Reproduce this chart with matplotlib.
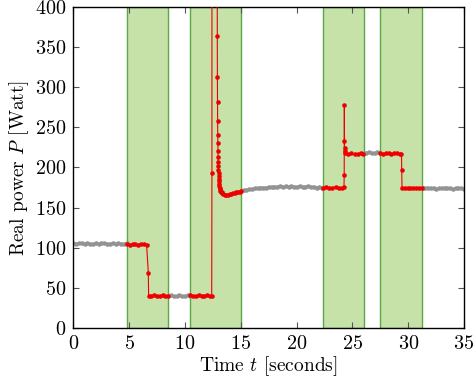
"""plot.py: real power trace with highlighted intervals."""

import numpy as np
import matplotlib as mpl
mpl.use('Agg')
import matplotlib.pyplot as plt

mpl.rcParams['font.family'] = 'serif'
mpl.rcParams['font.serif'] = ['cmr10']
mpl.rcParams['mathtext.fontset'] = 'cm'
mpl.rcParams['axes.formatter.use_mathtext'] = True
mpl.rcParams['axes.unicode_minus'] = False

# highlighted intervals (seconds)
band_start = [4.82, 10.5, 22.33, 27.5]
band_end = [8.5, 15.03, 26.0, 31.27]

# gray (idle) samples, each segment: (t_start, t_end, values)
gray_seg_t = [(0.0, 4.8), (8.5, 10.5), (15.0, 22.3), (26.0, 27.5), (31.3, 35.0)]
gray_seg_p = [
    [106, 105, 106, 106, 105, 106, 105, 105, 106, 105,
     106, 106, 105, 105, 106, 105, 106, 105, 105, 106],
    [40, 41, 40, 40, 41, 40, 40, 41, 40],
    [171, 172, 172, 173, 173, 174, 174, 175, 175, 175,
     176, 176, 176, 176, 177, 176, 177, 176, 177, 176,
     176, 177, 176, 176, 177, 176, 176, 175, 176, 175],
    [218, 218, 219, 218, 218, 219, 218],
    [174, 174, 175, 174, 174, 173, 174, 174,
     175, 174, 174, 173, 174, 174, 174, 173],
]

# red (measured) samples inside the intervals
red1_t = [4.82, 5.07, 5.32, 5.57, 5.82, 6.07, 6.32, 6.57, 6.72,
          6.75, 7.0, 7.25, 7.5, 7.75, 8.0, 8.25, 8.48]
red1_p = [105, 104, 105, 105, 104, 105, 105, 104, 69,
          40, 40, 41, 40, 40, 41, 40, 40]

red2_t = [10.5, 10.75, 11.0, 11.25, 11.5, 11.75, 12.0, 12.25, 12.4,
          12.42, 12.43, 12.88,
          12.90, 12.91, 12.92, 12.93, 12.94, 12.95, 12.96, 12.97, 12.98,
          12.99, 13.00, 13.01, 13.02, 13.03, 13.04, 13.06, 13.08, 13.10,
          13.13, 13.17, 13.22, 13.28, 13.35, 13.45, 13.58, 13.72, 13.86,
          14.0, 14.15, 14.3, 14.45, 14.6, 14.75, 14.9, 15.0]
red2_p = [41, 40, 40, 41, 40, 40, 41, 40, 40,
          193, 1500, 1500,
          363, 312, 281, 258, 240, 230, 221, 213, 207,
          202, 197, 193, 189, 186, 183, 180, 177, 175,
          173, 171, 170, 169, 168, 167, 166, 166, 166,
          167, 167, 168, 168, 169, 170, 170, 171]

red3_t = [22.33, 22.6, 22.9, 23.2, 23.5, 23.8, 24.05, 24.25,
          24.27, 24.28, 24.29, 24.3, 24.33, 24.37,
          24.6, 24.9, 25.2, 25.5, 25.75, 25.98]
red3_p = [175, 176, 175, 175, 176, 175, 175, 176,
          191, 278, 233, 224, 220, 218,
          217, 218, 217, 217, 218, 217]

red4_t = [27.5, 27.75, 28.0, 28.25, 28.5, 28.75, 29.0, 29.25, 29.4,
          29.42, 29.45, 29.7, 29.95, 30.2, 30.45, 30.7, 30.95, 31.25]
red4_p = [218, 217, 218, 218, 217, 218, 218, 217, 217,
          197, 175, 174, 175, 175, 174, 175, 175, 174]


def main():
    fig = plt.figure(figsize=(4.74, 3.82), dpi=100)
    ax = fig.add_axes([0.1546, 0.1406, 0.8243, 0.8419])

    for s, e in zip(band_start, band_end):
        ax.axvspan(s, e, facecolor='#c6e2a8', edgecolor='#5aa846',
                   linewidth=1.0, zorder=0)

    for (t0, t1), vals in zip(gray_seg_t, gray_seg_p):
        ts = np.linspace(t0, t1, len(vals))
        ax.plot(ts, vals, color='#939393', marker='o', markersize=3.3,
                markeredgewidth=0, linewidth=1.5, zorder=2)

    for ts, vals in [(red1_t, red1_p), (red2_t, red2_p),
                     (red3_t, red3_p), (red4_t, red4_p)]:
        ax.plot(ts, vals, color='#ee0000', marker='o', markersize=3.3,
                markeredgewidth=0, linewidth=0.8, zorder=3)

    ax.set_xlim(0, 35)
    ax.set_ylim(0, 400)
    ax.set_xticks(np.arange(0, 36, 5))
    ax.set_yticks(np.arange(0, 401, 50))
    ax.tick_params(direction='in', top=True, right=True, length=4,
                   width=0.8, color='#555555', labelsize=14.5, pad=5)
    for sp in ax.spines.values():
        sp.set_linewidth(1.0)
    ax.set_xlabel('Time $t$ [seconds]', fontsize=14, labelpad=1)
    ax.set_ylabel('Real power $P$ [Watt]', fontsize=14, labelpad=3)

    fig.savefig('out.png', dpi=100)


if __name__ == '__main__':
    main()
